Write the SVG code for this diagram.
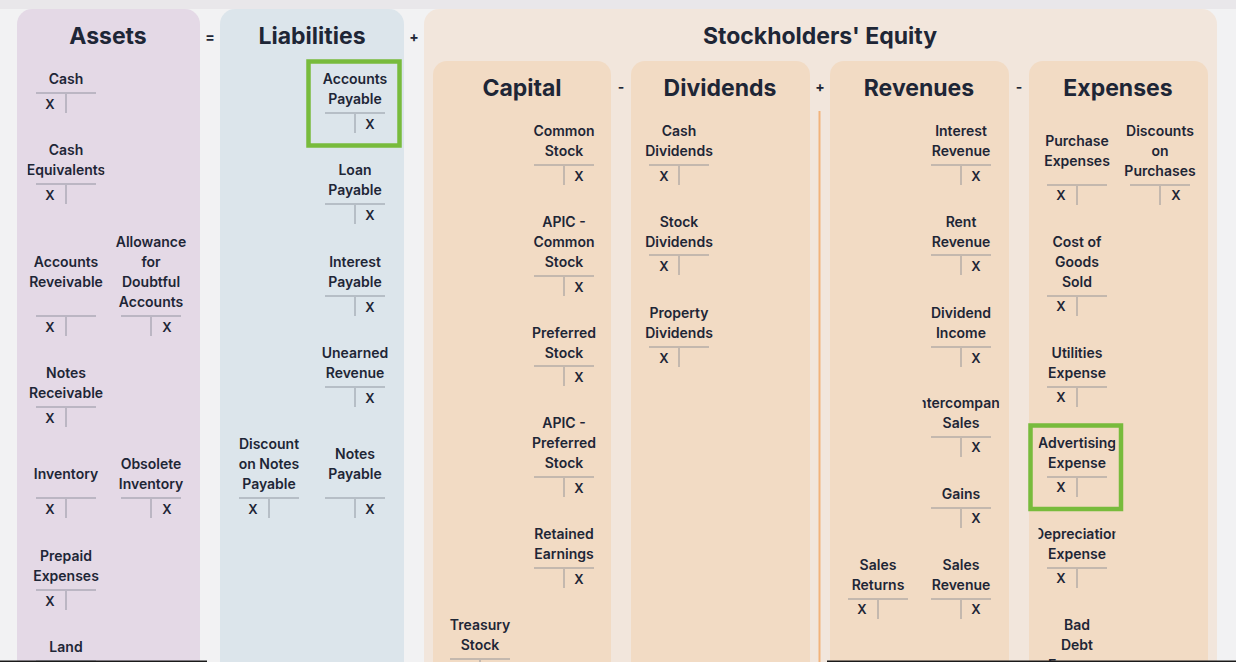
<svg xmlns="http://www.w3.org/2000/svg" width="1236" height="662" viewBox="0 0 1236 662">
<style>
.h1{font-family:Inter,"Liberation Sans",sans-serif;font-weight:700;font-size:23px;fill:#1e2636;text-anchor:middle}
.op{font-family:Inter,"Liberation Sans",sans-serif;font-weight:700;font-size:14px;fill:#1e2636;text-anchor:middle}
.lb{font-family:Inter,"Liberation Sans",sans-serif;font-weight:600;font-size:14px;fill:#1e2636;text-anchor:middle}
.x{font-family:Inter,"Liberation Sans",sans-serif;font-weight:600;font-size:13px;fill:#1e2636;text-anchor:middle}
.t{fill:none;stroke:#7a7f8c;stroke-opacity:0.38;stroke-width:2}
.hl{fill:none;stroke:#78bb3c;stroke-width:4.5}
</style>
<defs>
<clipPath id="c66"><rect x="27.5" y="0" width="77" height="662"/></clipPath>
<clipPath id="c961"><rect x="922.5" y="0" width="77" height="662"/></clipPath>
<clipPath id="c1077"><rect x="1038.5" y="0" width="77" height="662"/></clipPath>
</defs>
<rect x="0" y="0" width="1236" height="662" fill="#f2f2f3"/>
<rect x="0" y="0" width="1236" height="9" fill="#e9e7ea"/>

<g id="panels">
<rect x="17" y="9" width="183" height="680" rx="15" fill="#e4d9e6"/>
<rect x="220" y="9" width="184" height="680" rx="15" fill="#dce5eb"/>
<rect x="424" y="9" width="793" height="680" rx="15" fill="#f2e6dc"/>
<rect x="433" y="61" width="178" height="640" rx="14" fill="#f2dbc4"/>
<rect x="631" y="61" width="179" height="640" rx="14" fill="#f2dbc4"/>
<rect x="830" y="61" width="179" height="640" rx="14" fill="#f2dbc4"/>
<rect x="1029" y="61" width="179" height="640" rx="14" fill="#f2dbc4"/>
<line x1="819.5" y1="111" x2="819.5" y2="662" stroke="#f2b37c" stroke-width="2"/>
</g>

<g id="headers">
<text class="h1" x="108" y="44">Assets</text>
<text class="op" x="210" y="42">=</text>
<text class="h1" x="312" y="44">Liabilities</text>
<text class="op" x="414" y="42">+</text>
<text class="h1" x="820" y="44">Stockholders' Equity</text>
<text class="h1" x="522" y="96">Capital</text>
<text class="op" x="621" y="92">-</text>
<text class="h1" x="720" y="96">Dividends</text>
<text class="op" x="820" y="92">+</text>
<text class="h1" x="919" y="96">Revenues</text>
<text class="op" x="1019" y="92">-</text>
<text class="h1" x="1118" y="96">Expenses</text>
</g>

<!-- Assets -->
<g id="cash"><text class="lb" x="66" y="84">Cash</text><path class="t" d="M36 93H96M66 93V113"/><text class="x" x="50" y="109">X</text></g>
<g id="cash-equivalents"><text class="lb" x="66" clip-path="url(#c66)"><tspan x="66" y="155">Cash</tspan><tspan x="66" y="175">Equivalents</tspan></text><path class="t" d="M36 184H96M66 184V204"/><text class="x" x="50" y="200">X</text></g>
<g id="accounts-receivable"><text class="lb"><tspan x="66" y="267">Accounts</tspan><tspan x="66" y="287">Reveivable</tspan></text><path class="t" d="M36 316H96M66 316V336"/><text class="x" x="50" y="332">X</text></g>
<g id="allowance"><text class="lb"><tspan x="151" y="247">Allowance</tspan><tspan x="151" y="267">for</tspan><tspan x="151" y="287">Doubtful</tspan><tspan x="151" y="307">Accounts</tspan></text><path class="t" d="M121 316H181M151 316V336"/><text class="x" x="167" y="332">X</text></g>
<g id="notes-receivable"><text class="lb"><tspan x="66" y="378">Notes</tspan><tspan x="66" y="398">Receivable</tspan></text><path class="t" d="M36 407H96M66 407V427"/><text class="x" x="50" y="423">X</text></g>
<g id="inventory"><text class="lb" x="66" y="479">Inventory</text><path class="t" d="M36 498H96M66 498V518"/><text class="x" x="50" y="514">X</text></g>
<g id="obsolete-inventory"><text class="lb"><tspan x="151" y="469">Obsolete</tspan><tspan x="151" y="489">Inventory</tspan></text><path class="t" d="M121 498H181M151 498V518"/><text class="x" x="167" y="514">X</text></g>
<g id="prepaid-expenses"><text class="lb"><tspan x="66" y="561">Prepaid</tspan><tspan x="66" y="581">Expenses</tspan></text><path class="t" d="M36 590H96M66 590V610"/><text class="x" x="50" y="606">X</text></g>
<g id="land"><text class="lb" x="66" y="652">Land</text><path class="t" d="M36 661H96M66 661V681"/></g>

<!-- Liabilities -->
<g id="accounts-payable"><text class="lb"><tspan x="355" y="84">Accounts</tspan><tspan x="355" y="104">Payable</tspan></text><path class="t" d="M325 113H385M355 113V133"/><text class="x" x="370" y="129">X</text><rect class="hl" x="308.5" y="61.5" width="91" height="84"/></g>
<g id="loan-payable"><text class="lb"><tspan x="355" y="175">Loan</tspan><tspan x="355" y="195">Payable</tspan></text><path class="t" d="M325 204H385M355 204V224"/><text class="x" x="370" y="220">X</text></g>
<g id="interest-payable"><text class="lb"><tspan x="355" y="267">Interest</tspan><tspan x="355" y="287">Payable</tspan></text><path class="t" d="M325 296H385M355 296V316"/><text class="x" x="370" y="312">X</text></g>
<g id="unearned-revenue"><text class="lb"><tspan x="355" y="358">Unearned</tspan><tspan x="355" y="378">Revenue</tspan></text><path class="t" d="M325 387H385M355 387V407"/><text class="x" x="370" y="403">X</text></g>
<g id="discount-notes-payable"><text class="lb"><tspan x="269" y="449">Discount</tspan><tspan x="269" y="469">on Notes</tspan><tspan x="269" y="489">Payable</tspan></text><path class="t" d="M239 498H299M269 498V518"/><text class="x" x="253" y="514">X</text></g>
<g id="notes-payable"><text class="lb"><tspan x="355" y="459">Notes</tspan><tspan x="355" y="479">Payable</tspan></text><path class="t" d="M325 498H385M355 498V518"/><text class="x" x="370" y="514">X</text></g>

<!-- Capital -->
<g id="common-stock"><text class="lb"><tspan x="564" y="136">Common</tspan><tspan x="564" y="156">Stock</tspan></text><path class="t" d="M534 165H594M564 165V185"/><text class="x" x="579" y="181">X</text></g>
<g id="apic-common"><text class="lb"><tspan x="564" y="227">APIC -</tspan><tspan x="564" y="247">Common</tspan><tspan x="564" y="267">Stock</tspan></text><path class="t" d="M534 276H594M564 276V296"/><text class="x" x="579" y="292">X</text></g>
<g id="preferred-stock"><text class="lb"><tspan x="564" y="338">Preferred</tspan><tspan x="564" y="358">Stock</tspan></text><path class="t" d="M534 366H594M564 366V386"/><text class="x" x="579" y="382">X</text></g>
<g id="apic-preferred"><text class="lb"><tspan x="564" y="428">APIC -</tspan><tspan x="564" y="448">Preferred</tspan><tspan x="564" y="468">Stock</tspan></text><path class="t" d="M534 477H594M564 477V497"/><text class="x" x="579" y="493">X</text></g>
<g id="retained-earnings"><text class="lb"><tspan x="564" y="539">Retained</tspan><tspan x="564" y="559">Earnings</tspan></text><path class="t" d="M534 568H594M564 568V588"/><text class="x" x="579" y="584">X</text></g>
<g id="treasury-stock"><text class="lb"><tspan x="480" y="630">Treasury</tspan><tspan x="480" y="650">Stock</tspan></text><path class="t" d="M450 659H510M480 659V679"/></g>

<!-- Dividends -->
<g id="cash-dividends"><text class="lb"><tspan x="679" y="136">Cash</tspan><tspan x="679" y="156">Dividends</tspan></text><path class="t" d="M649 165H709M679 165V185"/><text class="x" x="664" y="181">X</text></g>
<g id="stock-dividends"><text class="lb"><tspan x="679" y="227">Stock</tspan><tspan x="679" y="247">Dividends</tspan></text><path class="t" d="M649 255H709M679 255V275"/><text class="x" x="664" y="271">X</text></g>
<g id="property-dividends"><text class="lb"><tspan x="679" y="318">Property</tspan><tspan x="679" y="338">Dividends</tspan></text><path class="t" d="M649 347H709M679 347V367"/><text class="x" x="664" y="363">X</text></g>

<!-- Revenues -->
<g id="interest-revenue"><text class="lb"><tspan x="961" y="136">Interest</tspan><tspan x="961" y="156">Revenue</tspan></text><path class="t" d="M931 165H991M961 165V185"/><text class="x" x="976" y="181">X</text></g>
<g id="rent-revenue"><text class="lb"><tspan x="961" y="227">Rent</tspan><tspan x="961" y="247">Revenue</tspan></text><path class="t" d="M931 255H991M961 255V275"/><text class="x" x="976" y="271">X</text></g>
<g id="dividend-income"><text class="lb"><tspan x="961" y="318">Dividend</tspan><tspan x="961" y="338">Income</tspan></text><path class="t" d="M931 347H991M961 347V367"/><text class="x" x="976" y="363">X</text></g>
<g id="intercompany-sales"><text class="lb" clip-path="url(#c961)"><tspan x="961" y="408">Intercompany</tspan><tspan x="961" y="428">Sales</tspan></text><path class="t" d="M931 437H991M961 437V457"/><text class="x" x="976" y="452">X</text></g>
<g id="gains"><text class="lb" x="961" y="499">Gains</text><path class="t" d="M931 508H991M961 508V528"/><text class="x" x="976" y="523">X</text></g>
<g id="sales-revenue"><text class="lb"><tspan x="961" y="570">Sales</tspan><tspan x="961" y="590">Revenue</tspan></text><path class="t" d="M931 599H991M961 599V619"/><text class="x" x="976" y="614">X</text></g>
<g id="sales-returns"><text class="lb"><tspan x="878" y="570">Sales</tspan><tspan x="878" y="590">Returns</tspan></text><path class="t" d="M848 599H908M878 599V619"/><text class="x" x="862" y="614">X</text></g>

<!-- Expenses -->
<g id="purchase-expenses"><text class="lb"><tspan x="1077" y="146">Purchase</tspan><tspan x="1077" y="166">Expenses</tspan></text><path class="t" d="M1047 185H1107M1077 185V205"/><text class="x" x="1061" y="200">X</text></g>
<g id="discounts-purchases"><text class="lb"><tspan x="1160" y="136">Discounts</tspan><tspan x="1160" y="156">on</tspan><tspan x="1160" y="176">Purchases</tspan></text><path class="t" d="M1130 185H1190M1160 185V205"/><text class="x" x="1176" y="200">X</text></g>
<g id="cogs"><text class="lb"><tspan x="1077" y="247">Cost of</tspan><tspan x="1077" y="267">Goods</tspan><tspan x="1077" y="287">Sold</tspan></text><path class="t" d="M1047 296H1107M1077 296V316"/><text class="x" x="1061" y="311">X</text></g>
<g id="utilities-expense"><text class="lb"><tspan x="1077" y="358">Utilities</tspan><tspan x="1077" y="378">Expense</tspan></text><path class="t" d="M1047 387H1107M1077 387V407"/><text class="x" x="1061" y="402">X</text></g>
<g id="advertising-expense"><text class="lb" clip-path="url(#c1077)"><tspan x="1077" y="448">Advertising</tspan><tspan x="1077" y="468">Expense</tspan></text><path class="t" d="M1047 477H1107M1077 477V497"/><text class="x" x="1061" y="492">X</text><rect class="hl" x="1030.5" y="425.5" width="90.5" height="83.5"/></g>
<g id="depreciation-expense"><text class="lb" clip-path="url(#c1077)"><tspan x="1077" y="539">Depreciation</tspan><tspan x="1077" y="559">Expense</tspan></text><path class="t" d="M1047 568H1107M1077 568V588"/><text class="x" x="1061" y="583">X</text></g>
<g id="bad-debt-expense"><text class="lb"><tspan x="1077" y="630">Bad</tspan><tspan x="1077" y="650">Debt</tspan><tspan x="1077" y="670">Expense</tspan></text></g>

<g id="connectors"></g>
<rect x="0" y="660.5" width="207" height="1.5" fill="#1a1a1a"/>
<rect x="827" y="660.5" width="409" height="1.5" fill="#1a1a1a"/>
</svg>
